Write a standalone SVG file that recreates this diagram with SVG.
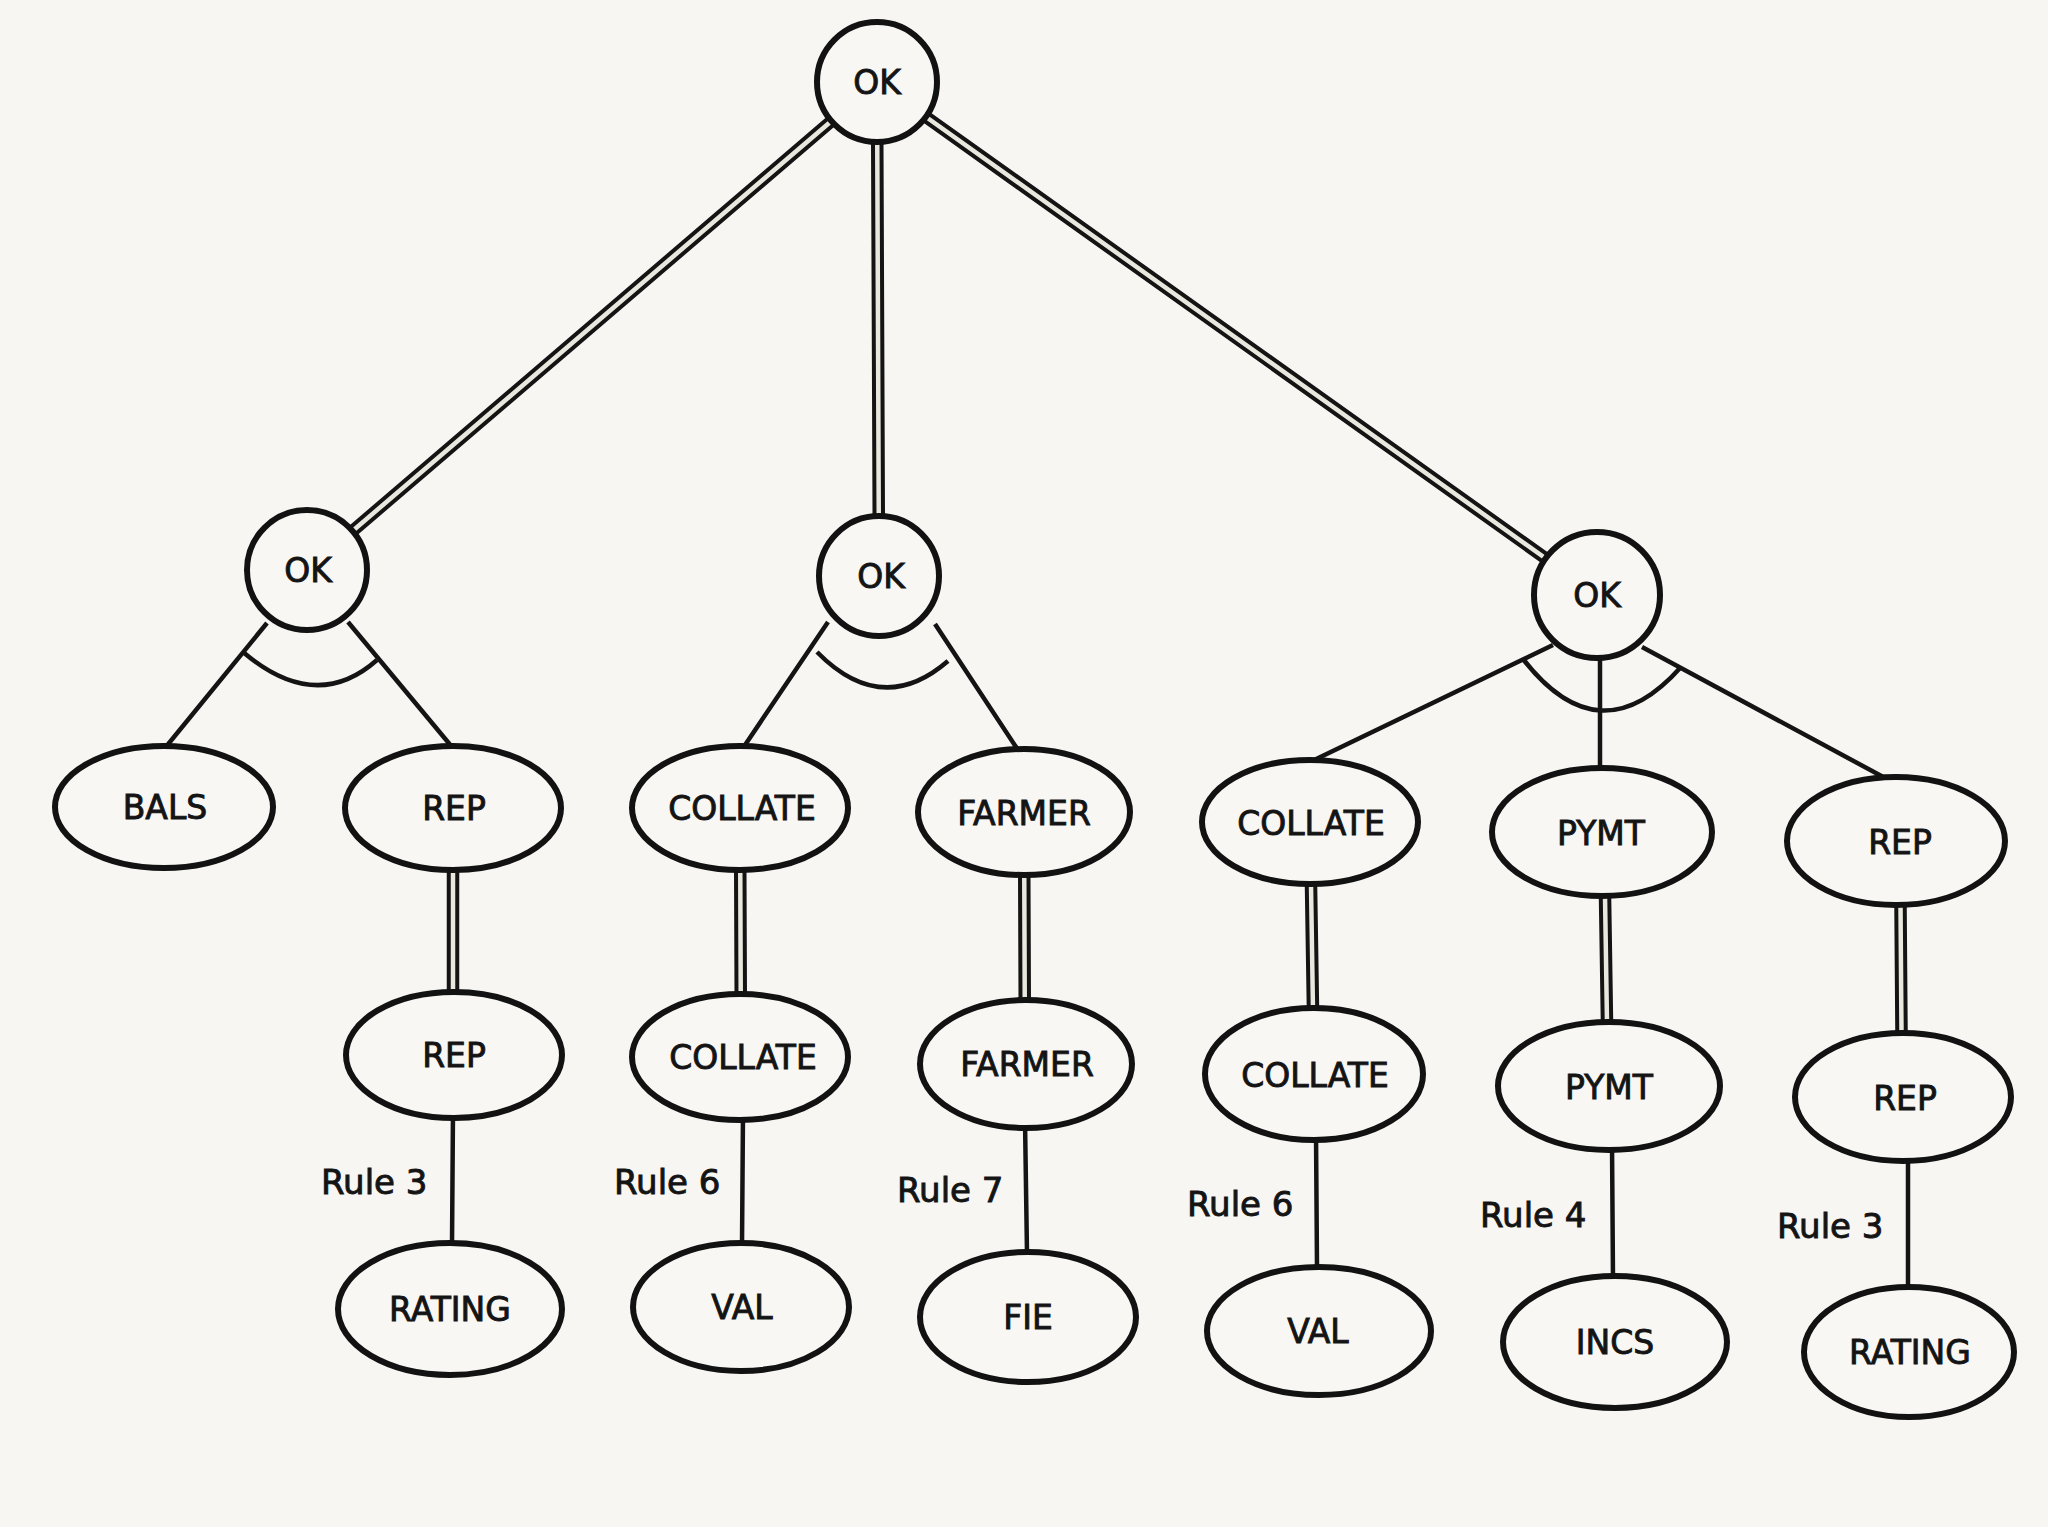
<svg xmlns="http://www.w3.org/2000/svg" width="2048" height="1527" viewBox="0 0 2048 1527">
<style>
.bg{fill:#f7f6f3}
.n{fill:#f8f7f4;stroke:#121212;stroke-width:6}
.t{font-family:"DejaVu Sans",Verdana,sans-serif;font-size:33px;fill:#141414;stroke:#141414;stroke-width:0.9;text-anchor:middle}
.r{font-family:"DejaVu Sans",Verdana,sans-serif;font-size:34px;fill:#141414;stroke:#141414;stroke-width:0.9}
.d1{stroke:#141414;stroke-width:12.5;fill:none}
.d2{stroke:#e9e8de;stroke-width:4.5;fill:none}
.s{stroke:#141414;stroke-width:4.5;fill:none}
</style>
<rect class="bg" x="0" y="0" width="2048" height="1527"/>
<g id="connectors">
  <g>
    <path class="d1" d="M877 82 L307 570 M877 82 L879 576 M877 82 L1597 595 M453 808 L453 1055 M740 808 L741 1057 M1024 812 L1025 1064 M1310 822 L1314 1074 M1604 832 L1608 1086 M1900 841 L1902 1097"/>
    <path class="d2" d="M877 82 L307 570 M877 82 L879 576 M877 82 L1597 595 M453 808 L453 1055 M740 808 L741 1057 M1024 812 L1025 1064 M1310 822 L1314 1074 M1604 832 L1608 1086 M1900 841 L1902 1097"/>
  </g>
  <path class="s" d="M267 623 L165 748 M348 622 L452 747"/>
  <path class="s" d="M243 652 Q316 714 377 660"/>
  <path class="s" d="M828 622 L743 748 M935 624 L1018 750"/>
  <path class="s" d="M817 652 Q882 718 948 661"/>
  <path class="s" d="M1553 645 L1310 762 M1600 650 L1600 770 M1642 647 L1887 779"/>
  <path class="s" d="M1523 659 Q1600 758 1681 667"/>
  <path class="s" d="M453 1110 L452 1245 M743 1112 L742 1245 M1025 1120 L1027 1254 M1316 1132 L1317 1269 M1612 1143 L1613 1279 M1908 1154 L1908 1289"/>
</g>
<g id="ok-root"><circle class="n" cx="877" cy="82" r="60"/><text class="t" x="877" y="94">OK</text></g>
<g id="ok-left"><circle class="n" cx="307" cy="570" r="60"/><text class="t" x="308" y="582">OK</text></g>
<g id="ok-mid"><circle class="n" cx="879" cy="576" r="60"/><text class="t" x="881" y="588">OK</text></g>
<g id="ok-right"><circle class="n" cx="1597" cy="595" r="63"/><text class="t" x="1597" y="607">OK</text></g>
<g id="bals"><ellipse class="n" cx="164" cy="807" rx="109" ry="61"/><text class="t" x="165" y="819">BALS</text></g>
<g id="rep-1"><ellipse class="n" cx="453" cy="808" rx="108" ry="62"/><text class="t" x="454" y="820">REP</text></g>
<g id="collate-1"><ellipse class="n" cx="740" cy="808" rx="108" ry="62"/><text class="t" x="742" y="820">COLLATE</text></g>
<g id="farmer-1"><ellipse class="n" cx="1024" cy="812" rx="106" ry="63"/><text class="t" x="1024" y="825">FARMER</text></g>
<g id="collate-2"><ellipse class="n" cx="1310" cy="822" rx="108" ry="62"/><text class="t" x="1311" y="835">COLLATE</text></g>
<g id="pymt-1"><ellipse class="n" cx="1602" cy="832" rx="110" ry="64"/><text class="t" x="1601" y="845">PYMT</text></g>
<g id="rep-2"><ellipse class="n" cx="1896" cy="841" rx="109" ry="64"/><text class="t" x="1900" y="854">REP</text></g>
<g id="rep-3"><ellipse class="n" cx="454" cy="1055" rx="108" ry="63"/><text class="t" x="454" y="1067">REP</text></g>
<g id="collate-3"><ellipse class="n" cx="740" cy="1057" rx="108" ry="63"/><text class="t" x="743" y="1069">COLLATE</text></g>
<g id="farmer-2"><ellipse class="n" cx="1026" cy="1064" rx="106" ry="64"/><text class="t" x="1027" y="1076">FARMER</text></g>
<g id="collate-4"><ellipse class="n" cx="1314" cy="1074" rx="109" ry="66"/><text class="t" x="1315" y="1087">COLLATE</text></g>
<g id="pymt-2"><ellipse class="n" cx="1609" cy="1086" rx="111" ry="64"/><text class="t" x="1609" y="1099">PYMT</text></g>
<g id="rep-4"><ellipse class="n" cx="1903" cy="1097" rx="108" ry="64"/><text class="t" x="1905" y="1110">REP</text></g>
<g id="rating-1"><ellipse class="n" cx="450" cy="1309" rx="112" ry="66"/><text class="t" x="450" y="1321">RATING</text></g>
<g id="val-1"><ellipse class="n" cx="741" cy="1307" rx="108" ry="64"/><text class="t" x="742" y="1319">VAL</text></g>
<g id="fie"><ellipse class="n" cx="1028" cy="1317" rx="108" ry="65"/><text class="t" x="1028" y="1329">FIE</text></g>
<g id="val-2"><ellipse class="n" cx="1319" cy="1331" rx="112" ry="64"/><text class="t" x="1318" y="1343">VAL</text></g>
<g id="incs"><ellipse class="n" cx="1615" cy="1342" rx="112" ry="66"/><text class="t" x="1615" y="1354">INCS</text></g>
<g id="rating-2"><ellipse class="n" cx="1909" cy="1352" rx="105" ry="65"/><text class="t" x="1910" y="1364">RATING</text></g>
<g id="labels">
  <text class="r" x="321" y="1194">Rule 3</text>
  <text class="r" x="614" y="1194">Rule 6</text>
  <text class="r" x="897" y="1202">Rule 7</text>
  <text class="r" x="1187" y="1216">Rule 6</text>
  <text class="r" x="1480" y="1227">Rule 4</text>
  <text class="r" x="1777" y="1238">Rule 3</text>
</g>
</svg>
